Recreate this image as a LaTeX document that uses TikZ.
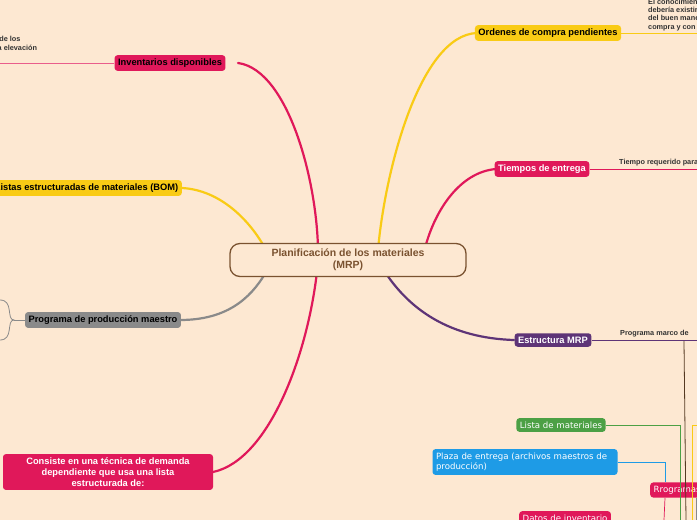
\documentclass[tikz,border=0pt]{standalone}
\usepackage{fontspec}
\setmainfont{Liberation Sans}
\newfontfamily\dv{DejaVu Sans}
\begin{document}
\begin{tikzpicture}[x=1pt,y=-1pt,
 box/.style={rounded corners=3pt,inner sep=3.5pt,font=\fontsize{9.3}{11}\selectfont\bfseries,align=center},
 sub/.style={rounded corners=3pt,inner sep=3.5pt,font=\dv\fontsize{8.6}{10.5}\selectfont,text=white,align=left},
 note/.style={font=\fontsize{7.3}{8.3}\selectfont\bfseries,text=black!80,align=left,inner sep=0pt},
 br/.style={line width=2.2pt,line cap=round}]
\definecolor{bg}{HTML}{FDE8D2}
\definecolor{crim}{HTML}{E0185A}
\definecolor{yel}{HTML}{F9CB15}
\definecolor{gry}{HTML}{8A8A8A}
\definecolor{pur}{HTML}{5E3477}
\definecolor{grn}{HTML}{4CA045}
\definecolor{blu}{HTML}{1E9BE6}
\definecolor{brn}{HTML}{7A5230}
\fill[bg] (0,0) rectangle (697,520);
\useasboundingbox (0,0) rectangle (697,520);
\begin{scope}
\clip (0,0) rectangle (697,520);
% branches
\draw[br,crim] (238,63) .. controls (290,70) and (320,190) .. (318,262);
\draw[br,yel] (182,188) .. controls (220,190) and (250,220) .. (266,250);
\draw[br,gry] (180,320) .. controls (225,320) and (250,300) .. (266,272);
\draw[br,crim] (213,472) .. controls (270,460) and (310,350) .. (318,262);
\draw[br,yel] (477,33) .. controls (420,35) and (385,170) .. (378,250);
\draw[br,crim] (496,169) .. controls (460,172) and (435,210) .. (425,248);
\draw[br,pur] (514,340) .. controls (450,338) and (410,310) .. (385,272);
% center
\node[draw=brn,line width=1.3pt,fill=bg,rounded corners=10pt,minimum width=236pt,minimum height=33pt,align=center,text=brn,font=\fontsize{10.5}{12}\selectfont\bfseries] (c) at (348,260) {Planificación de los materiales\\(MRP)};
% nodes
\node[box,fill=crim] (inv) at (170,63) {Inventarios disponibles};
\node[box,fill=yel,anchor=east] (bom) at (182,188) {Listas estructuradas de materiales (BOM)};
\node[box,fill=gry] (pm) at (103,320) {Programa de producción maestro};
\node[box,fill=crim,text=white,minimum width=210pt] (cons) at (108,472) {Consiste en una técnica de demanda\\dependiente que usa una lista\\estructurada de:};
\node[box,fill=yel] (oc) at (548,33) {Ordenes de compra pendientes};
\node[box,fill=crim,text=white] (te) at (542,169) {Tiempos de entrega};
\node[box,fill=pur,text=white] (em) at (553,340) {Estructura MRP};
\node[sub,fill=grn] (lm) at (561,425) {Lista de materiales};
\node[sub,fill=blu,text width=178pt] (pe) at (525,462) {Plaza de entrega (archivos maestros de\\producción)};
\node[sub,fill=crim,anchor=west] (rp) at (650,490) {Rrogramas};
\node[sub,fill=crim,anchor=north west] (di) at (519,511) {Datos de inventario};
% secondary lines
\draw[crim!70,line width=0.8pt] (inv.west) -- (0,63);
\node[note,anchor=west] (t1) at (-22,44) {\hspace*{9pt}cia de los\\para la elevación};
\draw[yel,line width=1pt] (oc.east) -- (697,33);
\node[note,anchor=south west] (t2) at (648,31) {El conocimiento\\debería existir\\del buen manejo\\compra y con};
\draw[crim,line width=1pt] (te.east) -- (697,169);
\node[note,anchor=west] (t3) at (619,163) {Tiempo requerido para};
\draw[pur,line width=1pt] (em.east) -- (697,340);
\node[note,anchor=west] (t4) at (620,334) {Programa marco de};
\draw[brn!70!black,line width=0.8pt] (684,341) -- (686,520);
\draw[grn,line width=0.7pt] (lm.east) -- (680,425) -- (680,520);
\draw[blu,line width=0.7pt] (pe.east) -- (665,462) -- (665,482);
\draw[crim,line width=0.7pt] (665,498) -- (664,520);
\draw[yel,line width=0.7pt] (697,425) -- (692,425) -- (692,520);
\draw[gry,line width=0.7pt] (696,498) -- (696,520);
\draw[gry,line width=0.8pt] (pm.west) -- (14,320);
\draw[gry,line width=0.8pt] (0,300) .. controls (14,300) and (6,320) .. (14,320) .. controls (6,320) and (14,340) .. (0,340);
\end{scope}
\end{tikzpicture}
\end{document}
